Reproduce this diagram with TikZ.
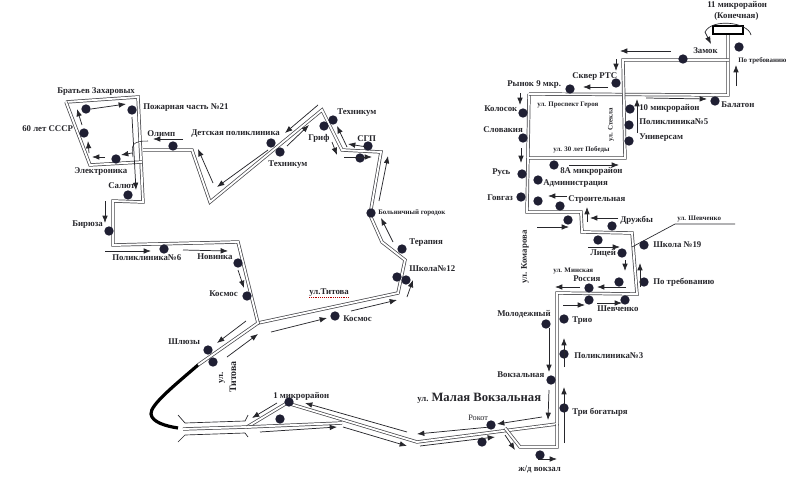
\documentclass[tikz,border=0pt]{standalone}
\usepackage{fontspec}
\setmainfont{Liberation Serif}
\usetikzlibrary{arrows.meta}
\definecolor{ink}{HTML}{26262B}
\definecolor{dot}{HTML}{1F1F33}
\tikzset{
 x=0.75pt,y=-0.75pt,
 road/.style={draw=ink!85,line width=0.55pt,double=white,double distance=1.4pt,line join=miter},
 guard/.style={draw=ink,line width=0.5pt},
 arr/.style={draw=ink,line width=0.55pt,-{Latex[length=5.5pt,width=4.2pt]}},
 stopdot/.style={circle,fill=dot,inner sep=0pt,minimum size=7pt},
 lab/.style={anchor=west,inner sep=0pt,text=ink,font=\fontsize{6.6}{7}\bfseries\selectfont},
 smalllab/.style={anchor=west,inner sep=0pt,text=ink,font=\fontsize{5.2}{6}\bfseries\selectfont},
 biglab/.style={anchor=west,inner sep=0pt,text=ink,font=\fontsize{7.4}{8}\bfseries\selectfont},
}
\begin{document}
\begin{tikzpicture}
\fill[white] (0,0) rectangle (800,496);
\useasboundingbox (0,0) rectangle (800,496);
% junction coordinates
\coordinate (jL) at (258,323);
\coordinate (jM) at (417,442);
\coordinate (jV) at (557,424);
% left loop and road
\draw[road] (143,150) -- (192,150) -- (210,202) -- (322,110) -- (342,150) -- (381,152) -- (370,215) -- (382,242) -- (405,260) -- (398,293) -- (jL);
\draw[road] (66,102) -- (138,97) -- (143,202) -- (113,201) -- (113,245) -- (238,242) -- (jL) -- (198,365);
\draw[road] (66,102) -- (90,165) -- (142,162);
% black curve
\draw[line width=2.4pt,black] (198,365) .. controls (175,385) and (150,405) .. (151,414) .. controls (152,422) and (165,426) .. (178,428);
% lower road
\draw[road] (183,429) -- (247,427) -- (287,403) -- (jM) -- (jV) -- (557,293) -- (637,294) -- (632,233) -- (582,232) -- (581,212) -- (527,212) -- (529,94);
\draw[road] (247,427) -- (342,423);
\draw[road] (505,428) -- (520,447) -- (557,447) -- (jV);
% upper network
\draw[road] (529,94) -- (728,95) -- (728,33);
\draw[road] (529,158) -- (625,158) -- (623,60) -- (729,60);
% terminal
\draw[line width=1.2pt,black,fill=white] (713,26) rectangle (743,34);
\draw[ink,line width=0.5pt] (751,35) .. controls (748,22) and (712,18) .. (705,32);
\draw[arr] (705,32) -- (711,44);
% guard lines around the end of road
\draw[guard] (178,415) -- (185,423) -- (245,421) -- (248,415);
\draw[guard] (178,442) -- (185,435) -- (245,433) -- (248,437);
\draw[ink,line width=0.4pt] (133,157) .. controls (131,145) and (132,141) .. (148,141);
% Shevchenko street leader
\coordinate (shA) at (735,224);
\coordinate (shB) at (675,224);
\coordinate (shC) at (632,247);
\draw[ink,line width=0.5pt] (shA) -- (shB) -- (shC);
% stops
\foreach \p [count=\i] in {{86,109},{132,110},{84,133},{116,159},{173,146},{128,195},{109,231},{271,143},{280,152},{324,126},{333,120},{368,146},{360,158},{371,213},{402,249},{397,277},{406,280},{335,316},{164,249},{238,263},{247,296},{208,350},{213,362},{289,402},{280,419},{546,324},{564,319},{564,354},{551,380},{564,408},{491,425},{482,442},{540,455},{554,165},{522,174},{538,180},{521,197},{538,201},{560,206},{568,220},{612,226},{598,240},{622,253},{644,245},{619,282},{644,282},{589,288},{589,300},{625,300},{739,47},{683,59},{616,83},{570,89},{715,101},{523,113},{523,138},{630,109},{629,125},{629,141}}
  \node[stopdot] (s\i) at (\p) {};
% arrows
\foreach \a/\b/\c/\d in {91/109/126/104,132/117/136/190,82/125/77/109,89/153/88/141,105/157/92/157,132/153/121/155,183/139/153/139,213/183/198/149,268/150/217/187,105/201/105/223,318/105/285/133,287/146/309/125,332/142/337/155,347/147/337/126,367/147/348/144,344/157/372/157,379/201/388/156,393/242/381/218,407/297/413/280,351/311/397/300,271/332/327/318,105/251/151/251,183/250/228/251,238/270/244/288,246/321/217/343,227/357/258/334,277/403/252/418,260/432/337/427,343/427/407/446,407/432/305/403,542/417/497/424,490/427/417/434,420/446/495/437,549/328/549/372,549/390/548/420,564/367/564/338,564/443/564/387,505/435/515/450,538/459/557/459,537/227/569/227,587/222/587/207,618/218/590/218,588/247/620/247,625/260/625/271,640/287/640/263,626/287/597/287,580/287/555/287,563/305/585/305,597/303/622/303,521/148/521/163,569/165/619/165,567/196/548/196,671/51/620/51,616/59/616/71,608/87/583/87,520/93/520/105,646/98/707/99,637/133/637/99,736/86/736/65}
  \draw[arr] (\a,\b) -- (\c,\d);
% labels
\node[lab] (l1) at (57,92) {Братьев Захаровых};
\node[lab] (l2) at (143,108) {Пожарная часть №21};
\node[lab] (l3) at (22,129) {60 лет СССР};
\node[lab] (l4) at (147,134) {Олимп};
\node[lab] (l5) at (191,134) {Детская поликлиника};
\node[lab] (l6) at (74,172) {Электроника};
\node[lab] (l7) at (108,186) {Салют};
\node[lab] (l8) at (72,225) {Бирюза};
\node[lab] (l9) at (112,258) {Поликлиника№6};
\node[lab] (l10) at (197,257) {Новинка};
\node[lab] (l11) at (209,294) {Космос};
\node[lab] (l12) at (168,342) {Шлюзы};
\node[lab,rotate=90,anchor=center] (l13) at (222,378) {ул.};
\node[biglab,rotate=90,anchor=center] (l14) at (233,377) {Титова};
\node[lab] (l15) at (273,396) {1 микрорайон};
\node[lab] (l16) at (343,319) {Космос};
\node[lab] (l17) at (309,293) {ул.Титова};
\draw[red!70!black,densely dotted,line width=0.4pt] (l17.south west) -- (l17.south east);
\node[lab] (l18) at (409,269) {Школа№12};
\node[lab] (l19) at (409,243) {Терапия};
\node[smalllab] (l20) at (378,213) {Больничный городок};
\node[lab] (l21) at (357,139) {СГП};
\node[lab] (l22) at (308,138) {Гриф};
\node[lab] (l23) at (337,113) {Техникум};
\node[lab] (l24) at (268,165) {Техникум};
\node[lab] (l25) at (707,5) {11 микрорайон};
\node[lab] (l26) at (714,16) {(Конечная)};
\node[lab] (l27) at (693,51) {Замок};
\node[smalllab] (l28) at (738,61) {По требованию};
\node[lab] (l29) at (572,77) {Сквер РТС};
\node[lab] (l30) at (507,85) {Рынок 9 мкр.};
\node[smalllab] (l31) at (537,105) {ул. Проспект Героя};
\node[lab] (l32) at (484,109) {Колосок};
\node[lab] (l33) at (639,108) {10 микрорайон};
\node[lab] (l34) at (721,105) {Балатон};
\node[lab] (l35) at (639,122) {Поликлиника№5};
\node[lab] (l36) at (639,138) {Универсам};
\node[lab] (l37) at (483,130) {Словакия};
\node[smalllab,rotate=90,anchor=center] (l38) at (611,125) {ул. Стекла};
\node[smalllab] (l39) at (553,150) {ул. 30 лет Победы};
\node[lab] (l40) at (560,171) {8А микрорайон};
\node[lab] (l41) at (492,173) {Русь};
\node[lab] (l42) at (543,184) {Администрация};
\node[lab] (l43) at (487,198) {Говгаз};
\node[lab] (l44) at (568,200) {Строительная};
\node[lab] (l45) at (620,220) {Дружбы};
\node[smalllab] (l46) at (677,219) {ул. Шевченко};
\node[lab] (l47) at (653,245) {Школа №19};
\node[lab] (l48) at (590,253) {Лицей};
\node[smalllab] (l49) at (553,271) {ул. Минская};
\node[lab] (l50) at (573,279) {Россия};
\node[lab] (l51) at (653,282) {По требованию};
\node[lab] (l52) at (597,309) {Шевченко};
\node[lab,rotate=90,anchor=center] (l53) at (525,257) {ул. Комарова};
\node[lab] (l54) at (497,314) {Молодежный};
\node[lab] (l55) at (572,321) {Трио};
\node[lab] (l56) at (574,356) {Поликлиника№3};
\node[lab] (l57) at (497,375) {Вокзальная};
\node[lab] (l58) at (572,412) {Три богатыря};
\node[inner sep=0pt,anchor=west,text=ink,font=\fontsize{6.2}{7}\selectfont] (l59) at (468,418) {Рокот};
\node[lab] (l60) at (518,469) {ж/д вокзал};
\node[lab] (l61) at (417,398) {ул. {\fontsize{9.5}{10}\selectfont Малая Вокзальная}};
\end{tikzpicture}
\end{document}
